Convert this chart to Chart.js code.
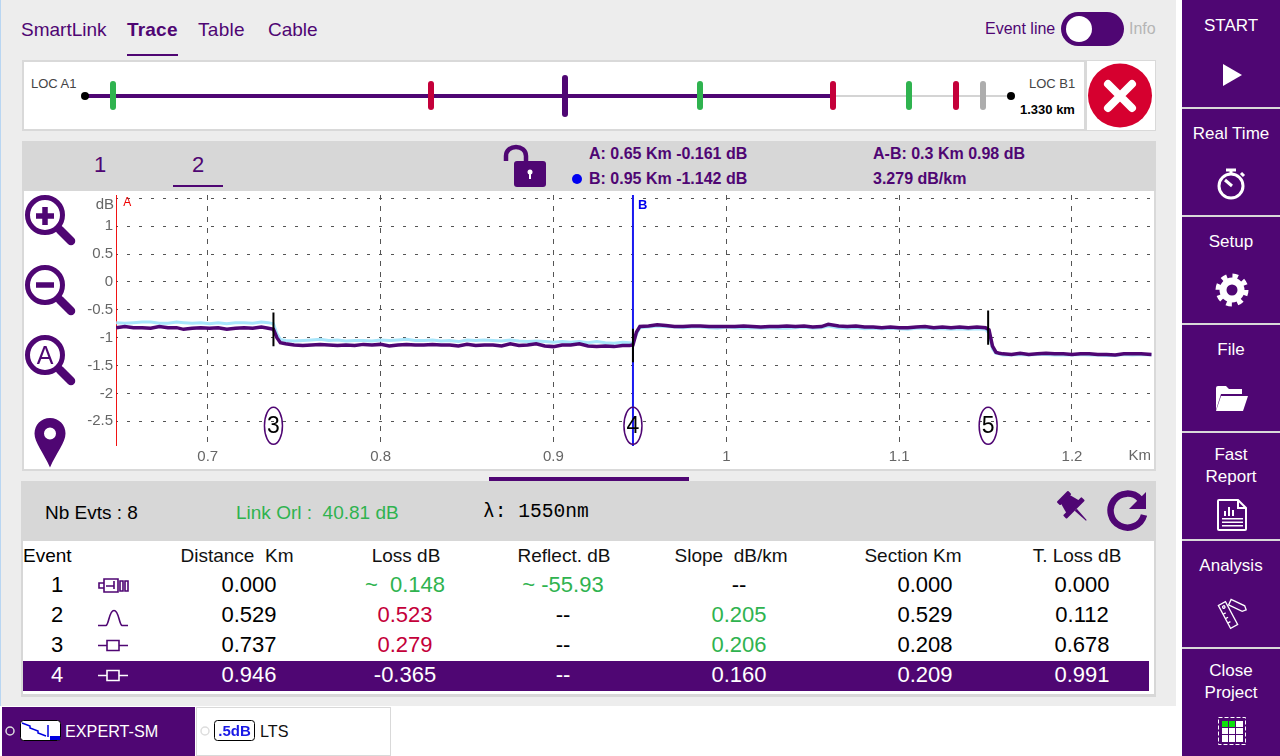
<!DOCTYPE html>
<html>
<head>
<meta charset="utf-8">
<title>Trace</title>
<script src="https://cdn.jsdelivr.net/npm/chart.js@4/dist/chart.umd.min.js"></script>
<style>
  html, body { margin: 0; padding: 0; background: #fff; }
  #page { position: relative; width: 1280px; height: 756px; overflow: hidden; font-family: "Liberation Sans", Arial, sans-serif; color: #000; }
  .box { position: absolute; }
  .t { position: absolute; white-space: pre; line-height: 1; transform: translateY(-50%); }
  .c { transform: translate(-50%, -50%); text-align: center; }
  .purple { color: #4f0673; }
  canvas { position: absolute; left: 23px; top: 191px; }
  #icons { position: absolute; left: 0; top: 0; pointer-events: none; }
</style>
</head>
<body>
<div id="page">
  <div class="box" style="left:0;top:0;width:1176px;height:706px;background:#ededed"></div>
  <div class="box" style="left:0;top:0;width:1px;height:706px;background:#b9d6f2"></div>

  <div class="t purple" style="left:21px;top:29px;font-size:19px">SmartLink</div>
  <div class="t purple" style="left:127px;top:29px;font-size:19px;font-weight:bold;letter-spacing:.2px">Trace</div>
  <div class="box" style="left:127px;top:54px;width:51px;height:2px;background:#4f0673"></div>
  <div class="t purple" style="left:198px;top:29px;font-size:19px;letter-spacing:.3px">Table</div>
  <div class="t purple" style="left:268px;top:29px;font-size:19px">Cable</div>
  <div class="t purple" style="left:985px;top:29px;font-size:16px">Event line</div>
  <div class="box" style="left:1061px;top:12px;width:63px;height:34px;border-radius:17px;background:#4f0673"></div>
  <div class="box" style="left:1066px;top:16px;width:26px;height:26px;border-radius:13px;background:#fff"></div>
  <div class="t" style="left:1129px;top:29px;font-size:16px;color:#b5b5b5">Info</div>

  <div class="box" style="left:22px;top:60px;width:1064px;height:71px;background:#fff;box-sizing:border-box;border:2px solid #d9d9d9"></div>
  <div class="box" style="left:1086px;top:60px;width:70px;height:71px;background:#fff;box-sizing:border-box;border:1px solid #d9d9d9"></div>
  <div class="t" style="left:31px;top:83px;font-size:13px;color:#444">LOC A1</div>
  <div class="t" style="left:1029px;top:83px;font-size:13px;color:#444">LOC B1</div>
  <div class="t" style="left:1020px;top:109px;font-size:13px;font-weight:bold">1.330 km</div>
  <div id="linkBar"></div>

  <div class="box" style="left:22px;top:141px;width:1134px;height:50px;background:#d7d7d7"></div>
  <div class="t c purple" style="left:100px;top:165px;font-size:22px">1</div>
  <div class="t c purple" style="left:198px;top:165px;font-size:22px">2</div>
  <div class="box" style="left:173px;top:185px;width:50px;height:2px;background:#4f0673"></div>
  <div class="t purple" style="left:589px;top:154px;font-size:16px;font-weight:bold">A: 0.65 Km -0.161 dB</div>
  <div class="t purple" style="left:589px;top:179px;font-size:16px;font-weight:bold">B: 0.95 Km -1.142 dB</div>
  <div class="box" style="left:572px;top:174px;width:10px;height:10px;border-radius:5px;background:#0000f0"></div>
  <div class="t purple" style="left:873px;top:154px;font-size:16px;font-weight:bold">A-B: 0.3 Km 0.98 dB</div>
  <div class="t purple" style="left:873px;top:179px;font-size:16px;font-weight:bold">3.279 dB/km</div>

  <div class="box" style="left:22px;top:191px;width:1134px;height:280px;background:#fff;box-sizing:border-box;border:2px solid #d9d9d9;border-top:0"></div>
  <canvas id="traceChart" width="1131" height="278"></canvas>

  <div class="box" style="left:489px;top:477px;width:200px;height:4px;background:#4f0673"></div>
  <div class="box" style="left:21px;top:481px;width:1135px;height:216px;background:#d7d7d7"></div>
  <div class="box" style="left:23px;top:541px;width:1131px;height:153px;background:#fff"></div>
  <div class="box" style="left:23px;top:661px;width:1126px;height:30px;background:#4f0673"></div>
  <div class="t" style="left:45px;top:512px;font-size:19px">Nb Evts : 8</div>
  <div class="t" style="left:236px;top:512px;font-size:19px;color:#2fb34f">Link Orl :  40.81 dB</div>
  <div class="t" style="left:483px;top:513px;font-size:19.6px;font-family:'Liberation Mono',monospace">λ: 1550nm</div>
  <div class="t" style="left:23px;top:555px;font-size:19px">Event</div>
  <div id="eventTable"></div>

  <div class="box" style="left:1176px;top:0;width:6px;height:756px;background:#fff"></div>
  <div class="box" style="left:1182px;top:0;width:98px;height:756px;background:#4f0673"></div>
  <div id="sideMenu"></div>

  <div class="box" style="left:2px;top:707px;width:193px;height:49px;background:#4f0673"></div>
  <div class="box" style="left:196px;top:707px;width:195px;height:49px;background:#fff;box-sizing:border-box;border:1px solid #d9d9d9"></div>
  <div class="t" style="left:65px;top:731px;font-size:16.2px;color:#fff">EXPERT-SM</div>
  <div class="t" style="left:260px;top:731px;font-size:16.2px;color:#111">LTS</div>

  <svg id="icons" width="1280" height="756" viewBox="0 0 1280 756">
    <g fill="none" stroke="#4f0673">
      <g><circle cx="45" cy="215" r="17.5" stroke-width="5"/><line x1="60" y1="230" x2="71" y2="241" stroke-width="8.500" stroke-linecap="round"/><path d="M36 216H54M45 207V225" stroke-width="5.500"/></g>
      <g><circle cx="45" cy="285" r="17.5" stroke-width="5"/><line x1="60" y1="300" x2="71" y2="311" stroke-width="8.500" stroke-linecap="round"/><path d="M36 285H54" stroke-width="5.500"/></g>
      <g><circle cx="45" cy="355" r="17.5" stroke-width="5"/><line x1="60" y1="370" x2="71" y2="381" stroke-width="8.500" stroke-linecap="round"/></g>
    </g>
    <text x="45" y="364" text-anchor="middle" font-size="25" fill="#4f0673" font-family="Liberation Sans">A</text>
    <path fill="#4f0673" fill-rule="evenodd" d="M50 418c-9 0-15.5 7-15.5 15.5 0 9 9 19 15.5 34 6.5-15 15.5-25 15.500-34C65.500 425 59 418 50 418zm0 9.500a6 6 0 1 1 0 12 6 6 0 0 1 0-12z"/>

    <path d="M506 161v-5c0-12 20-12 20 0v5" fill="none" stroke="#4f0673" stroke-width="4.500"/>
    <rect x="514" y="161" width="32" height="26" rx="3" fill="#4f0673"/>
    <circle cx="530" cy="172" r="2.500" fill="#fff"/><rect x="529" y="173" width="2" height="6" fill="#fff"/>

    <circle cx="1120" cy="95.500" r="32" fill="#d6002f"/>
    <path d="M1108 84L1132 108M1132 84L1108 108" stroke="#fff" stroke-width="8" stroke-linecap="round"/>

    <g fill="#4f0673" transform="rotate(-45 1075 509)">
      <rect x="1067" y="491" width="16" height="5" rx="1"/>
      <path d="M1069 495h12l3 11h-18z"/>
      <rect x="1062" y="505" width="26" height="5" rx="1"/>
      <path d="M1073.500 510h3l-1 15h-1z"/>
    </g>
    <path d="M1140 499A17 17 0 1 0 1144 515" fill="none" stroke="#4f0673" stroke-width="6.500"/>
    <path d="M1146 492v17h-17z" fill="#4f0673"/>

    <path d="M1223 64L1242 75L1223 86z" fill="#fff"/>
    <circle cx="1231" cy="186" r="12" fill="none" stroke="#fff" stroke-width="3"/>
    <path d="M1226 170h10M1231 170v4M1241 173l3 3M1225 180l7 6" stroke="#fff" stroke-width="3" fill="none"/>
    <circle cx="1232" cy="290" r="14" fill="none" stroke="#fff" stroke-width="5" stroke-dasharray="5.500 5.500"/>
    <circle cx="1232" cy="290" r="9" fill="none" stroke="#fff" stroke-width="7"/>
    <path d="M1216 388a2 2 0 0 1 2-2h8l3 3h13v5h-21l-5 16z M1221 396h27l-5 15h-27z" fill="#fff"/>
    <path d="M1219 500h19l8 8v21a1 1 0 0 1-1 1h-26a1 1 0 0 1-1-1v-28a1 1 0 0 1 1-1z" fill="none" stroke="#fff" stroke-width="2"/>
    <path d="M1238 500v8h8" fill="none" stroke="#fff" stroke-width="2"/>
    <path d="M1224 511h2v5h-2zM1228 507h2v9h-2zM1232 510h2v6h-2zM1222 518h21v1.500h-21zM1222 521.500h21v1.500h-21zM1222 525h21v1.500h-21z" fill="#fff"/>
    <g fill="none" stroke="#fff" stroke-width="1.300" transform="rotate(-28 1228 615)"><rect x="1224" y="602" width="8" height="26"/><circle cx="1228" cy="606" r="1.200"/><path d="M1224 612h3M1224 617h3M1224 622h3"/></g>
    <g fill="none" stroke="#fff" stroke-width="1.300" transform="rotate(-65 1238 606)"><path d="M1235 597h6v15l-3 3-3-3z"/></g>
    <rect x="1218.500" y="717.500" width="27" height="27" fill="none" stroke="#fff" stroke-dasharray="4 2"/>
    <rect x="1222" y="721" width="21" height="21" fill="#fff"/>
    <rect x="1222" y="721" width="6" height="6" fill="#0be00b"/><rect x="1229" y="721" width="6" height="6" fill="#0be00b"/>
    <path d="M1228.500 721v21M1235.500 721v21M1222 727.500h21M1222 734.500h21" stroke="#4f0673" stroke-width="1"/>

    <circle cx="10" cy="731" r="4" fill="none" stroke="#ddd" stroke-width="1.500"/>
    <rect x="20.500" y="720.500" width="40" height="20" rx="3" fill="#fff" stroke="#000"/>
    <path d="M22 723l8 3v2l8 3v2l8 3M48 725v12" fill="none" stroke="#0000e0" stroke-width="1.500"/>
    <rect x="50" y="736" width="10" height="4" fill="#0000e0"/>
    <circle cx="205" cy="731" r="4" fill="none" stroke="#ddd" stroke-width="1.500"/>
    <rect x="214.500" y="720.500" width="40" height="20" rx="3" fill="#fff" stroke="#000"/>
    <text x="234.500" y="736" text-anchor="middle" font-size="15" font-weight="bold" fill="#1a1ae6" font-family="Liberation Sans">.5dB</text>
  </svg>
</div>

<script>
// Trace values: distance in km, dB for the two overlaid traces
const traceKm = [
  0.647,0.652,0.657,0.662,0.667,0.672,0.677,0.682,0.686,0.691,0.696,0.701,0.706,0.711,0.716,0.721,0.726,0.731,0.735,0.738,0.740,0.742,0.745,
  0.750,0.755,0.760,0.765,0.770,0.775,0.780,0.785,0.790,0.795,0.800,0.805,0.810,0.815,0.820,0.825,0.830,0.835,0.840,0.845,
  0.850,0.855,0.860,0.865,0.870,0.875,0.880,0.885,0.890,0.895,0.900,0.905,0.910,0.915,0.920,0.925,0.930,0.935,0.940,0.944,
  0.946,0.948,0.950,
  0.955,0.960,0.965,0.970,0.975,0.980,0.985,0.990,0.995,1.000,1.005,1.010,1.015,1.020,1.025,1.030,1.035,1.040,1.045,1.050,
  1.055,1.059,1.065,1.070,1.075,1.080,1.085,1.090,1.095,1.100,1.105,1.110,1.115,1.120,1.125,1.130,1.135,1.140,1.145,1.150,
  1.152,1.154,1.156,1.158,
  1.160,1.165,1.170,1.175,1.180,1.185,1.190,1.195,1.200,1.205,1.210,1.215,1.220,1.225,1.230,1.235,1.240,1.246
];
const traceDb = [
  -0.82,-0.80,-0.82,-0.82,-0.83,-0.80,-0.82,-0.82,-0.85,-0.83,-0.82,-0.83,-0.82,-0.85,-0.83,-0.82,-0.83,-0.81,-0.83,-0.85,-1.00,-1.09,-1.11,
  -1.13,-1.14,-1.13,-1.12,-1.13,-1.14,-1.13,-1.14,-1.12,-1.13,-1.12,-1.15,-1.13,-1.12,-1.13,-1.13,-1.12,-1.13,-1.13,-1.15,
  -1.12,-1.14,-1.13,-1.13,-1.15,-1.11,-1.14,-1.13,-1.11,-1.15,-1.16,-1.13,-1.13,-1.11,-1.15,-1.16,-1.15,-1.16,-1.14,-1.14,
  -1.13,-0.90,-0.80,
  -0.79,-0.77,-0.78,-0.80,-0.80,-0.79,-0.79,-0.80,-0.80,-0.80,-0.80,-0.79,-0.80,-0.81,-0.80,-0.80,-0.79,-0.80,-0.79,-0.81,
  -0.80,-0.76,-0.79,-0.80,-0.79,-0.81,-0.81,-0.82,-0.81,-0.82,-0.82,-0.81,-0.80,-0.82,-0.81,-0.82,-0.81,-0.82,-0.81,-0.82,
  -0.86,-1.15,-1.26,-1.28,
  -1.29,-1.30,-1.28,-1.30,-1.29,-1.28,-1.29,-1.29,-1.30,-1.29,-1.29,-1.30,-1.30,-1.31,-1.29,-1.29,-1.29,-1.30
];
const referenceDb = [
  -0.73,-0.74,-0.73,-0.72,-0.72,-0.74,-0.74,-0.72,-0.73,-0.74,-0.73,-0.75,-0.73,-0.75,-0.73,-0.73,-0.74,-0.72,-0.73,-0.75,-0.93,-1.03,-1.05,
  -1.06,-1.05,-1.04,-1.03,-1.05,-1.04,-1.06,-1.05,-1.05,-1.06,-1.04,-1.05,-1.04,-1.03,-1.05,-1.05,-1.04,-1.06,-1.05,-1.07,
  -1.04,-1.05,-1.04,-1.05,-1.06,-1.04,-1.06,-1.07,-1.06,-1.07,-1.08,-1.07,-1.08,-1.07,-1.09,-1.07,-1.09,-1.10,-1.08,-1.09,
  -1.10,-0.94,-0.82,
  -0.81,-0.79,-0.80,-0.81,-0.82,-0.81,-0.81,-0.82,-0.83,-0.81,-0.82,-0.83,-0.82,-0.83,-0.82,-0.83,-0.83,-0.82,-0.81,-0.83,
  -0.82,-0.79,-0.82,-0.83,-0.82,-0.84,-0.83,-0.84,-0.83,-0.84,-0.85,-0.83,-0.83,-0.84,-0.84,-0.85,-0.84,-0.85,-0.84,-0.85,
  -0.92,-1.20,-1.28,-1.29,
  -1.31,-1.31,-1.30,-1.31,-1.30,-1.30,-1.31,-1.31,-1.31,-1.30,-1.31,-1.31,-1.32,-1.32,-1.30,-1.31,-1.30,-1.31
];

const xTicks = [0.7, 0.8, 0.9, 1.0, 1.1, 1.2];
const xTickLabels = ['0.7', '0.8', '0.9', '1', '1.1', '1.2'];
const yTicks = [1.5, 1, 0.5, 0, -0.5, -1, -1.5, -2, -2.5];
const yTickLabels = ['', '1', '0.5', '0', '-0.5', '-1', '-1.5', '-2', '-2.5'];

const cursorAKm = 0.647;
const cursorBKm = 0.946;
const eventKm = [0.738, 0.946, 1.1515];
const eventLabels = ['3', '4', '5'];
const eventTopDb = [-0.55, -0.84, -0.51];
const eventBottomDb = [-1.155, -1.44, -1.125];

// Event table columns
const tableEvents = ['1', '2', '3', '4'];
const tableDistance = ['0.000', '0.529', '0.737', '0.946'];
const tableLoss = ['~  0.148', '0.523', '0.279', '-0.365'];
const tableReflect = ['~ -55.93', '--', '--', '--'];
const tableSlope = ['--', '0.205', '0.206', '0.160'];
const tableSection = ['0.000', '0.529', '0.208', '0.209'];
const tableTotal = ['0.000', '0.112', '0.678', '0.991'];

const PURPLE = '#4f0673';
const GREEN = '#2fb34f';
const RED = '#c4003a';

function addText(parent, text, x, y, size, color) {
  const el = document.createElement('div');
  el.className = 't c';
  el.textContent = text;
  el.style.cssText = `left:${x}px;top:${y}px;font-size:${size}px;color:${color}`;
  parent.appendChild(el);
}

function addBox(parent, x, y, w, h, color, radius) {
  const el = document.createElement('div');
  el.className = 'box';
  el.style.cssText = `left:${x}px;top:${y}px;width:${w}px;height:${h}px;background:${color};border-radius:${radius || 0}px`;
  parent.appendChild(el);
}

function buildLinkBar() {
  const bar = document.getElementById('linkBar');
  addBox(bar, 833, 95, 178, 2, '#d4d4d4');
  addBox(bar, 85, 94, 748, 4, PURPLE);
  addBox(bar, 81, 92, 8, 8, '#000', 4);
  addBox(bar, 1007, 92, 8, 8, '#000', 4);
  [[113, GREEN], [430.5, RED], [700, GREEN], [833, RED], [909, GREEN], [956, RED], [983, '#adadad']].forEach(([x, color]) => {
    addBox(bar, x - 3, 81, 6, 29, color, 3);
  });
  addBox(bar, 562, 75, 6, 42, PURPLE, 3);
}

function buildEventTable() {
  const table = document.getElementById('eventTable');
  const headers = [['Distance  Km', 237], ['Loss dB', 406], ['Reflect. dB', 564], ['Slope  dB/km', 731], ['Section Km', 913], ['T. Loss dB', 1077]];
  headers.forEach(([text, x]) => addText(table, text, x, 555, 19, '#111'));
  const rowY = [585, 615, 645, 675];
  tableEvents.forEach((event, i) => {
    const y = rowY[i];
    const selected = i === 3;
    const plain = selected ? '#fff' : '#000';
    addText(table, event, 57, y, 22, plain);
    addText(table, tableDistance[i], 249, y, 22, plain);
    addText(table, tableLoss[i], 405, y, 22, selected ? '#fff' : (i === 0 ? GREEN : RED));
    addText(table, tableReflect[i], 563, y, 22, selected ? '#fff' : (i === 0 ? GREEN : '#000'));
    addText(table, tableSlope[i], 739, y, 22, selected ? '#fff' : (i === 0 ? '#000' : GREEN));
    addText(table, tableSection[i], 925, y, 22, plain);
    addText(table, tableTotal[i], 1082, y, 22, plain);
  });

  // small event type glyphs in the second column
  const ns = 'http://www.w3.org/2000/svg';
  const svg = document.getElementById('icons');
  const glyphs = [
    [PURPLE, 'M99 583h5v5h-5zM104 579h14v13h-14zM106 586h8M114 581v8M120 581h3v10h-3zM125 581h3v10h-3z'],
    [PURPLE, 'M98 625.500h8c3-1 3-15 8-15s5 14 8 15h6'],
    [PURPLE, 'M98 645.500h9M107 640.500h12v10h-12zM119 645.500h9'],
    ['#fff', 'M98 675.500h9M107 670.500h12v10h-12zM119 675.500h9']
  ];
  glyphs.forEach(([color, d]) => {
    const path = document.createElementNS(ns, 'path');
    path.setAttribute('d', d);
    path.setAttribute('fill', 'none');
    path.setAttribute('stroke', color);
    path.setAttribute('stroke-width', '1.6');
    svg.appendChild(path);
  });
}

function buildSideMenu() {
  const menu = document.getElementById('sideMenu');
  [107, 215, 323, 431, 539, 647].forEach((y) => addBox(menu, 1182, y, 98, 2, '#d9d9d9'));
  [['START', 25], ['Real Time', 133], ['Setup', 241], ['File', 349], ['Fast', 454], ['Report', 476], ['Analysis', 565], ['Close', 670], ['Project', 692]]
    .forEach(([text, y]) => addText(menu, text, 1231, y, 17, '#fff'));
}

// Event badges, cursor letters and the two unit labels, placed through the scales
const traceLabels = {
  id: 'traceLabels',
  afterDatasetsDraw(chart) {
    const { ctx, scales: { x, y }, chartArea } = chart;
    ctx.save();
    ctx.textAlign = 'center';
    ctx.textBaseline = 'middle';
    eventKm.forEach((km, i) => {
      const px = x.getPixelForValue(km);
      const py = y.getPixelForValue(-2.58);
      ctx.beginPath();
      ctx.ellipse(px, py, 9, 18.5, 0, 0, Math.PI * 2);
      ctx.strokeStyle = PURPLE;
      ctx.lineWidth = 1.5;
      ctx.stroke();
      ctx.fillStyle = '#000';
      ctx.font = '23px "Liberation Sans"';
      ctx.fillText(eventLabels[i], px, py + 1);
    });
    ctx.textAlign = 'left';
    ctx.fillStyle = '#f00000';
    ctx.font = '12px "Liberation Sans"';
    ctx.fillText('A', x.getPixelForValue(cursorAKm) + 7, chartArea.top + 8);
    ctx.fillStyle = '#0000f0';
    ctx.font = 'bold 13px "Liberation Sans"';
    ctx.fillText('B', x.getPixelForValue(cursorBKm) + 5, chartArea.top + 10);
    ctx.fillStyle = '#666';
    ctx.font = '15px "Liberation Sans"';
    ctx.textAlign = 'right';
    ctx.fillText('dB', chartArea.left - 2, chartArea.top + 10);
    ctx.fillText('Km', chartArea.right - 1, chartArea.bottom + 10);
    ctx.restore();
  }
};

function pairs(xs, ys) {
  return xs.map((x, i) => ({ x, y: ys[i] }));
}

function vertical(km, top, bottom, color, width, order) {
  return {
    data: [{ x: km, y: top }, { x: km, y: bottom }],
    borderColor: color,
    borderWidth: width,
    pointRadius: 0,
    order
  };
}

function buildChart() {
  const yMax = 1.56;
  const yMin = -2.943;
  const datasets = [
    { data: pairs(traceKm, referenceDb), borderColor: '#a8e6fb', borderWidth: 3, pointRadius: 0, tension: 0, order: 4 },
    { data: pairs(traceKm, traceDb), borderColor: PURPLE, borderWidth: 3.5, pointRadius: 0, tension: 0, order: 3 },
    vertical(cursorAKm, yMax, yMin, '#f00000', 1.5, 5),
    vertical(cursorBKm, yMax, yMin, '#1a1af0', 2, 2)
  ];
  eventKm.forEach((km, i) => datasets.push(vertical(km, eventTopDb[i], eventBottomDb[i], '#000', 2, 1)));

  new Chart(document.getElementById('traceChart'), {
    type: 'line',
    data: { datasets },
    plugins: [traceLabels],
    options: {
      responsive: false,
      animation: false,
      layout: { padding: { top: 4, right: 2, bottom: 0, left: 0 } },
      plugins: { legend: { display: false }, tooltip: { enabled: false } },
      scales: {
        x: {
          type: 'linear',
          min: 0.6469,
          max: 1.2463,
          afterBuildTicks(axis) { axis.ticks = xTicks.map((value) => ({ value })); },
          afterFit(axis) { axis.height = 23; axis.paddingLeft = 0; axis.paddingRight = 0; },
          border: { display: false, dash: [5, 6] },
          grid: { color: '#555', lineWidth: 1, tickLength: 0 },
          ticks: {
            maxRotation: 0,
            padding: 2,
            color: '#666',
            font: { family: 'Liberation Sans', size: 15 },
            callback: (value) => xTickLabels[xTicks.indexOf(value)]
          }
        },
        y: {
          min: yMin,
          max: yMax,
          afterBuildTicks(axis) { axis.ticks = yTicks.map((value) => ({ value })); },
          afterFit(axis) { axis.width = 93; axis.paddingTop = 0; axis.paddingBottom = 0; },
          border: { display: false, dash: [3, 9], dashOffset: 1 },
          grid: { color: '#555', lineWidth: 1, tickLength: 0 },
          ticks: {
            padding: 3,
            color: '#666',
            font: { family: 'Liberation Sans', size: 15 },
            callback: (value) => yTickLabels[yTicks.indexOf(value)]
          }
        }
      }
    }
  });
}

buildLinkBar();
buildEventTable();
buildSideMenu();
buildChart();
</script>
</body>
</html>
